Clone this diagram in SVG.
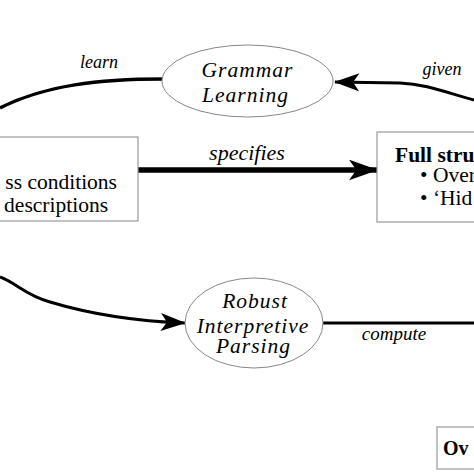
<svg xmlns="http://www.w3.org/2000/svg" width="474" height="474" viewBox="0 0 474 474">
<style>
.box{fill:#fff;stroke:#999;stroke-width:1.2}
.ell{fill:#fff;stroke:#888;stroke-width:1}
.edge{fill:none;stroke:#000;stroke-linecap:butt}
.serif{font-family:"Liberation Serif","Times New Roman",serif;fill:#000}
.it{font-style:italic}
.node{font-size:21.5px;letter-spacing:1px;text-anchor:middle}
.body{font-size:21.5px}
</style>
<defs>
<marker id="ah" viewBox="0 0 28 20" refX="27" refY="10" markerWidth="28" markerHeight="18" markerUnits="userSpaceOnUse" orient="auto">
<path d="M0,0 L28,10 L0,20 L7,10 Z" fill="#000"/>
</marker>
<marker id="ahb" viewBox="0 0 28 20" refX="27" refY="10" markerWidth="29" markerHeight="21" markerUnits="userSpaceOnUse" orient="auto">
<path d="M0,0 L28,10 L0,20 L7,10 Z" fill="#000"/>
</marker>
</defs>
<rect width="474" height="474" fill="#fff"/>
<g id="connectors">
<path class="edge" d="M0,108 C45,85 100,79 163,79" stroke-width="3.5"/>
<path class="edge" d="M474,100 C445,92 425,84 400,83 L335,82" stroke-width="3" marker-end="url(#ah)"/>
<path class="edge" d="M138,170 L377,170" stroke-width="5.5" marker-end="url(#ahb)"/>
<path class="edge" d="M0,277 C18,284 25,295 50,302 C90,314 130,321 185,323" stroke-width="3" marker-end="url(#ah)"/>
<path class="edge" d="M323,323 L474,323" stroke-width="3"/>
<text class="serif it" x="99" y="68" font-size="18" text-anchor="middle">learn</text>
<text class="serif it" x="442" y="75" font-size="18" text-anchor="middle">given</text>
<text class="serif it" x="247" y="160" font-size="22" text-anchor="middle">specifies</text>
<text class="serif it" x="394" y="340" font-size="19" text-anchor="middle">compute</text>
</g>
<g id="grammar-learning">
<ellipse class="ell" cx="247.5" cy="81" rx="85.5" ry="36"/>
<text class="serif it node" x="247.5" y="77">Grammar</text>
<text class="serif it node" x="245.5" y="102">Learning</text>
</g>
<g id="grammar">
<rect class="box" x="-10" y="137" width="148" height="84"/>
<text class="serif body" x="117" y="189" text-anchor="end">ss conditions</text>
<text class="serif body" x="108" y="212" text-anchor="end">descriptions</text>
</g>
<g id="full-structure">
<rect class="box" x="377" y="132" width="110" height="90"/>
<text class="serif body" x="395" y="162" font-weight="bold">Full stru</text>
<text class="serif body" x="420" y="182">• Over</text>
<text class="serif body" x="420" y="205">• ‘Hid</text>
</g>
<g id="robust-parsing">
<ellipse class="ell" cx="254" cy="323" rx="69" ry="45"/>
<text class="serif it node" x="255" y="308">Robust</text>
<text class="serif it node" x="253" y="333">Interpretive</text>
<text class="serif it node" x="253.5" y="353">Parsing</text>
</g>
<g id="overt">
<rect class="box" x="437" y="427" width="50" height="42"/>
<text class="serif" x="443" y="455" font-size="20" font-weight="bold">Ov</text>
</g>
</svg>
